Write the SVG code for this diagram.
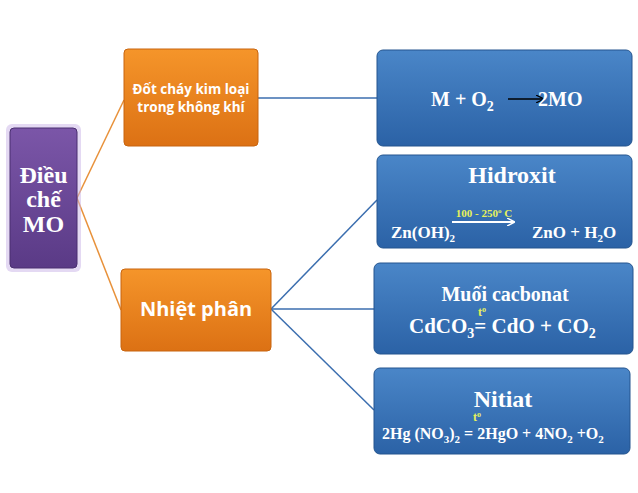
<svg xmlns="http://www.w3.org/2000/svg" width="638" height="493" viewBox="0 0 638 493">
<defs>
<linearGradient id="gb" x1="0" y1="0" x2="0" y2="1"><stop offset="0" stop-color="#4a86c8"/><stop offset="1" stop-color="#2b62a6"/></linearGradient>
<linearGradient id="go" x1="0" y1="0" x2="0" y2="1"><stop offset="0" stop-color="#f5952a"/><stop offset="1" stop-color="#dc7114"/></linearGradient>
<linearGradient id="gp" x1="0" y1="0" x2="0" y2="1"><stop offset="0" stop-color="#7b56a8"/><stop offset="1" stop-color="#5a3a86"/></linearGradient>
<marker id="ar" markerWidth="8" markerHeight="8" refX="7" refY="4" orient="auto" markerUnits="userSpaceOnUse"><path d="M0,0 L8,4 L0,8" fill="none" stroke="#fff" stroke-width="1.5"/></marker>
<marker id="ak" markerWidth="8" markerHeight="8" refX="7" refY="4" orient="auto" markerUnits="userSpaceOnUse"><path d="M0,0 L8,4 L0,8" fill="none" stroke="#000" stroke-width="1.2"/></marker>
</defs>
<style>
.b{fill:url(#gb);stroke:#24558f;stroke-width:1}
.o{fill:url(#go);stroke:#c8650f;stroke-width:1}
.s{font-family:"Open Sans","DejaVu Sans",sans-serif;fill:#fff;font-weight:bold;text-anchor:middle}
.t{font-family:"Liberation Serif",serif;fill:#fff;font-weight:bold;text-anchor:middle}
.y{font-family:"Liberation Serif",serif;fill:#e8f25a;font-weight:bold;text-anchor:middle}
.lb{stroke:#3b6eaf;stroke-width:1.5;fill:none}
.lo{stroke:#e8913a;stroke-width:1.5;fill:none}
</style>
<rect width="638" height="493" fill="#fff"/>
<g id="connectors">
<path class="lo" d="M77,198 L124,100"/>
<path class="lo" d="M77,198 L121,310"/>
<path class="lb" d="M258,98 L377,98"/>
<path class="lb" d="M271,309 L377,200"/>
<path class="lb" d="M271,309 L374,309"/>
<path class="lb" d="M271,309 L374,410"/>
</g>
<g id="root">
<rect x="6" y="124" width="75" height="148" rx="6" fill="#c9b4e8" opacity="0.5"/>
<rect x="10" y="128" width="67" height="140" rx="4" fill="url(#gp)" stroke="#4a2f70"/>
<text class="t" x="43.5" y="183" font-size="24">Điều</text>
<text class="t" x="43.5" y="207" font-size="24">chế</text>
<text class="t" x="43.5" y="232" font-size="24">MO</text>
</g>
<g id="n-dot">
<rect class="o" x="124" y="49" width="134" height="97" rx="4"/>
<text class="s" x="191" y="94" font-size="13.5">Đốt cháy kim loại</text>
<text class="s" x="191" y="112" font-size="13.5">trong không khí</text>
</g>
<g id="n-nhiet">
<rect class="o" x="121" y="269" width="150" height="82" rx="4"/>
<text class="s" x="196" y="316" font-size="20">Nhiệt phân</text>
</g>
<g id="n-mo">
<rect class="b" x="377" y="50" width="255" height="96" rx="6"/>
<text class="t" x="431" y="106" font-size="20" style="text-anchor:start">M + O<tspan font-size="14" dy="5">2</tspan></text>
<line x1="508" y1="99" x2="543" y2="99" stroke="#000" stroke-width="1.3" marker-end="url(#ak)"/>
<text class="t" x="538" y="106" font-size="20" style="text-anchor:start">2MO</text>
</g>
<g id="n-hidroxit">
<rect class="b" x="377" y="155" width="255" height="93" rx="6"/>
<text class="t" x="512" y="183" font-size="24">Hidroxit</text>
<text class="y" x="484" y="217" font-size="11">100 - 250<tspan font-size="7" dy="-4">o</tspan><tspan dy="4"> C</tspan></text>
<line x1="452" y1="222" x2="514" y2="222" stroke="#fff" stroke-width="1.8" marker-end="url(#ar)"/>
<text class="t" x="391" y="238" font-size="17" style="text-anchor:start">Zn(OH)<tspan font-size="11" dy="4">2</tspan></text>
<text class="t" x="532" y="238" font-size="17" style="text-anchor:start">ZnO + H<tspan font-size="11" dy="4">2</tspan><tspan dy="-4">O</tspan></text>
</g>
<g id="n-muoi">
<rect class="b" x="374" y="263" width="259" height="91" rx="6"/>
<text class="t" x="505" y="301" font-size="20">Muối cacbonat</text>
<text class="y" x="482" y="316" font-size="12">t<tspan font-size="8" dy="-4">o</tspan></text>
<text class="t" x="409" y="333" font-size="21" style="text-anchor:start">CdCO<tspan font-size="14" dy="5">3</tspan><tspan dy="-5">= CdO + CO</tspan><tspan font-size="14" dy="5">2</tspan></text>
</g>
<g id="n-nitiat">
<rect class="b" x="374" y="368" width="256" height="86" rx="6"/>
<text class="t" x="503" y="407" font-size="24">Nitiat</text>
<text class="y" x="477" y="421" font-size="12">t<tspan font-size="8" dy="-4">o</tspan></text>
<text class="t" x="382" y="439" font-size="16" style="text-anchor:start">2Hg (NO<tspan font-size="11" dy="4">3</tspan><tspan dy="-4">)</tspan><tspan font-size="11" dy="4">2</tspan><tspan dy="-4"> = 2HgO + 4NO</tspan><tspan font-size="11" dy="4">2</tspan><tspan dy="-4"> +O</tspan><tspan font-size="11" dy="4">2</tspan></text>
</g>
</svg>
